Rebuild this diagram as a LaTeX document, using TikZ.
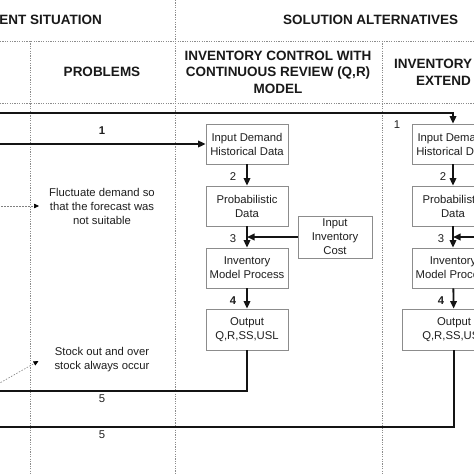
\documentclass[tikz,border=0pt]{standalone}
\usepackage{fontspec}
\setmainfont{Liberation Sans}
\usetikzlibrary{arrows.meta}
\begin{document}
\begin{tikzpicture}[x=1pt,y=-1pt,
  box/.style={draw=black!45, line width=0.8pt, fill=white, minimum width=82pt, minimum height=40pt, align=center, font=\fontsize{11.3}{14}\selectfont, inner sep=0.5pt, text=black!88},
  hdr/.style={font=\fontsize{13.5}{16.5}\selectfont\bfseries, align=center, text=black!90, inner sep=0pt},
  body/.style={font=\fontsize{11.3}{14}\selectfont, align=center, text=black!88, inner sep=0pt},
  num/.style={font=\fontsize{11.3}{14}\selectfont, text=black!88, inner sep=0pt},
  bnum/.style={num, font=\fontsize{11.3}{14}\selectfont\bfseries},
  grid/.style={draw=black!45, line width=0.6pt, dash pattern=on 1.2pt off 1.2pt},
  flow/.style={draw=black!92, line width=1.8pt, -{Triangle[length=7.5pt,width=6.5pt]}},
  flowline/.style={draw=black!92, line width=1.8pt},
  hint/.style={draw=black!50, line width=0.6pt, dash pattern=on 1.5pt off 1.5pt, -{Triangle[length=5pt,width=4.5pt,color=black]}}
]
\useasboundingbox (0,0) rectangle (474,474);
\clip (0,0) rectangle (474,474);
\fill[white] (0,0) rectangle (474,474);

% grid
\draw[grid] (0,41) -- (474,41);
\draw[grid] (0,103) -- (474,103);
\draw[grid] (175,0) -- (175,474);
\draw[grid] (30,41) -- (30,474);
\draw[grid] (382,41) -- (382,474);

% headers
\node[hdr, anchor=east] (cur) at (102,20) {CURRENT SITUATION};
\node[hdr] (sol) at (370.5,20) {SOLUTION ALTERNATIVES};
\node[hdr] (prob) at (102,72) {PROBLEMS};
\node[hdr] (qr) at (278,72) {INVENTORY CONTROL WITH\\CONTINUOUS REVIEW (Q,R)\\MODEL};
\node[hdr, anchor=west] (alt1) at (394,63.5) {INVENTORY};
\node[hdr, anchor=west] (alt2) at (416,80.5) {EXTEND};

% problems
\node[body] (fluct) at (102,206) {Fluctuate demand so\\that the forecast was\\not suitable};
\node[body] (stock) at (102,360) {Stock out and over\\stock always occur};

% left column boxes
\node[box] (in1) at (247,144) {Input Demand\\Historical Data};
\node[box] (pd1) at (247,206) {Probabilistic\\Data};
\node[box] (im1) at (247,268) {Inventory\\Model Process};
\node[box, minimum height=41pt] (out1) at (247,329.5) {Output\\Q,R,SS,USL};
\node[box, minimum width=74pt, minimum height=42pt] (cost1) at (335,237) {Input\\Inventory\\Cost};

% right column boxes
\node[box] (in2) at (453,144) {Input Demand\\Historical Data};
\node[box] (pd2) at (453,206) {Probabilistic\\Data};
\node[box] (im2) at (453,268) {Inventory\\Model Process};
\node[box, minimum width=104pt, minimum height=41pt] (out2) at (454,329.5) {Output\\Q,R,SS,USL};

% connectors
\coordinate (s0) at (-5,113);
\coordinate (s1) at (-5,144);
\coordinate (e5a) at (-5,391);
\coordinate (e5b) at (-5,427);
\coordinate (c2) at (490,237);
\draw[flow] (s0) -| (in2.north);
\draw[flow] (s1) -- (in1.west);
\draw[flow] (in1) -- (pd1);
\draw[flow] (pd1) -- (im1);
\draw[flow] (im1) -- (out1);
\draw[flow] (cost1.west) -- (cost1.west -| pd1);
\draw[flowline] (out1.south) |- (e5a);
\draw[flow] (in2) -- (pd2);
\draw[flow] (pd2) -- (im2);
\draw[flow] (im2) -- (out2);
\draw[flow] (c2) -- (c2 -| pd2);
\draw[flowline] (out2.south) |- (e5b);

% dashed hints
\coordinate (h1s) at (-2,206);
\coordinate (h1e) at (39,206);
\coordinate (h2s) at (-2,384);
\coordinate (h2e) at (38.5,361);
\draw[hint] (h1s) -- (h1e);
\draw[hint] (h2s) -- (h2e);

% labels
\node[bnum] (n1) at (102,131) {1};
\node[num] (n1r) at (397,125) {1};
\node[num] (n2) at (233,177) {2};
\node[num] (n3) at (233,239) {3};
\node[bnum] (n4) at (233,301) {4};
\node[num] (n2r) at (443,177) {2};
\node[num] (n3r) at (441,239) {3};
\node[bnum] (n4r) at (441,301) {4};
\node[num] (n5a) at (102,399) {5};
\node[num] (n5b) at (102,435) {5};
\end{tikzpicture}
\end{document}
